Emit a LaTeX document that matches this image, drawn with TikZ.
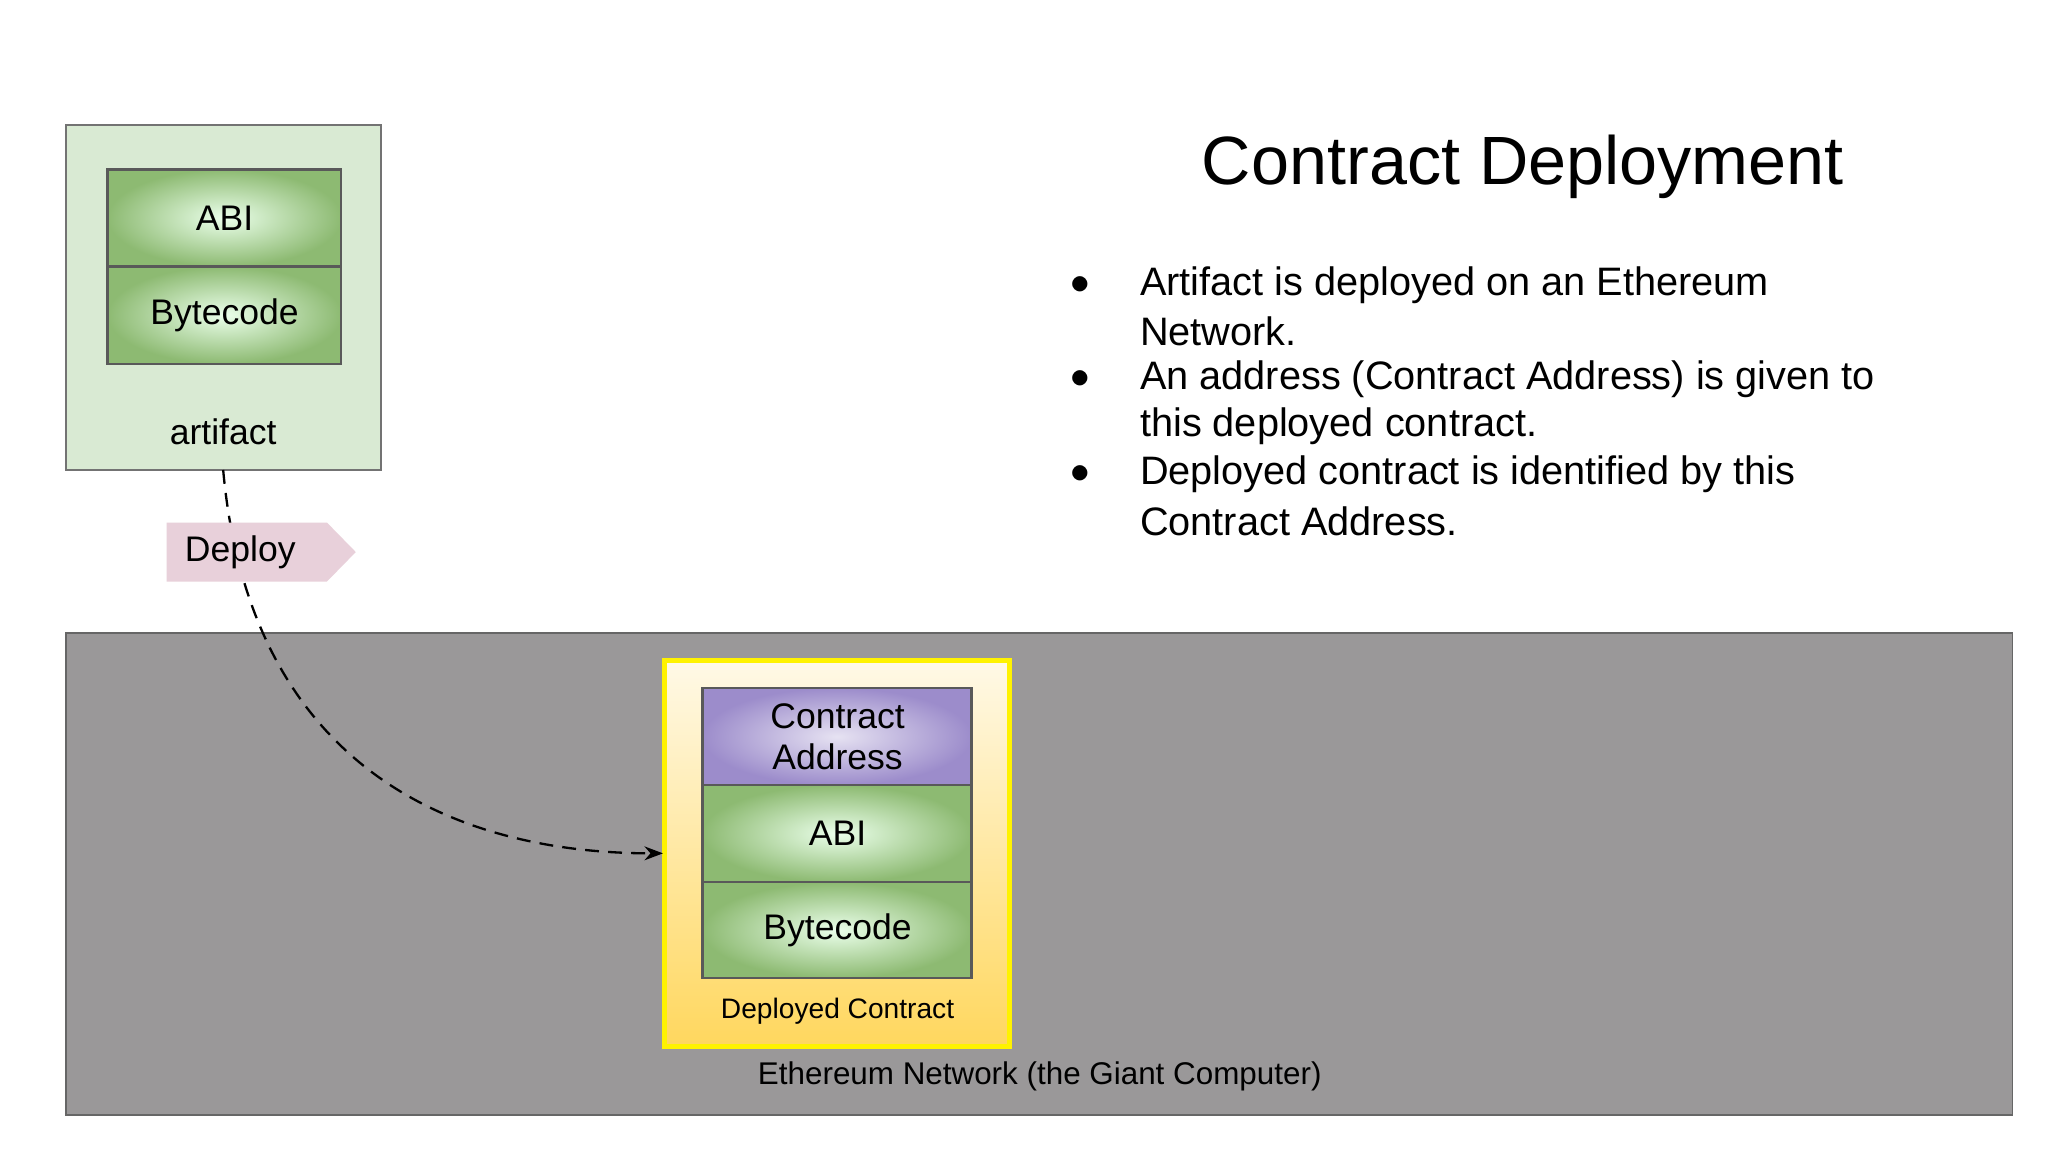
\documentclass[tikz,border=0pt]{standalone}
\usepackage{fontspec}
\setmainfont{Liberation Sans}
\usetikzlibrary{shapes.symbols,arrows.meta}
\definecolor{artbg}{HTML}{D9EAD3}
\definecolor{grn}{HTML}{8DBA72}
\definecolor{prp}{HTML}{9C8CCB}
\definecolor{pink}{HTML}{E8D0DA}
\definecolor{net}{HTML}{9A9899}
\definecolor{gold}{HTML}{FFD75E}
\begin{document}
\begin{tikzpicture}[x=0.01cm,y=-0.01cm,
  cell/.style={draw=black!65,line width=0.5pt,inner color=green!8!white,outer color=grn},
  pcell/.style={draw=black!65,line width=0.5pt,inner color=prp!25!white,outer color=prp},
  lbl/.style={font=\fontsize{7.7}{9.3}\selectfont},
  btxt/.style={font=\fontsize{8.6}{10}\selectfont,anchor=west}]
\useasboundingbox (0,0) rectangle (1560,878);
\fill[white] (0,0) rectangle (1560,878);
% artifact
\draw[fill=artbg,draw=black!55] (50,95) rectangle (290,358);
\coordinate (artS) at (170,358);
\draw[cell] (82,129) rectangle (260,203);
\draw[cell] (82,203) rectangle (260,277);
\node[lbl] (abi1) at (171,166) {ABI};
\node[lbl] (bc1) at (171,240) {Bytecode};
\node[lbl] (art) at (170,329) {artifact};
% network
\draw[fill=net,draw=black!60] (50,482) rectangle (1533,849);
\node[font=\fontsize{6.8}{9}\selectfont] (netl) at (792,820) {Ethereum Network (the Giant Computer)};
% deployed contract
\draw[top color=white!85!gold,bottom color=gold,draw=yellow,line width=1.1pt] (506,503) rectangle (769,797);
\coordinate (dcW) at (505,650);
\draw[pcell] (535,524) rectangle (740,598);
\draw[cell] (535,598) rectangle (740,672);
\draw[cell] (535,672) rectangle (740,745);
\node[lbl,align=center,font=\fontsize{7.7}{8.8}\selectfont] (ca) at (638,561) {Contract\\Address};
\node[lbl] (abi2) at (638,635) {ABI};
\node[lbl] (bc2) at (638,709) {Bytecode};
\node[font=\fontsize{6.1}{8}\selectfont] (dcl) at (638,770) {Deployed Contract};
% connector
\draw[densely dashed,line width=0.5pt,-{Stealth[length=4pt]}] (artS) .. controls (190,580) and (340,650) .. (dcW);
% deploy tag
\fill[pink] (127,398) -- (249,398) -- (271,420.5) -- (249,443) -- (127,443) -- cycle;
\node[lbl] (dep) at (183,421) {Deploy};
% title & bullets
\node[font=\fontsize{14.8}{18}\selectfont] (title) at (1160,127) {Contract Deployment};
\foreach \y in {217,289,361} {\node[font=\fontsize{8.2}{10}\selectfont] at (823,\y) {$\bullet$};}
\node[btxt] (t1) at (856,217) {Artifact is deployed on an Ethereum};
\node[btxt] (t2) at (856,252) {Network.};
\node[btxt] (t3) at (856,289) {An address (Contract Address) is given to};
\node[btxt] (t4) at (856,325) {this deployed contract.};
\node[btxt] (t5) at (856,361) {Deployed contract is identified by this};
\node[btxt] (t6) at (856,397) {Contract Address.};
\end{tikzpicture}
\end{document}
